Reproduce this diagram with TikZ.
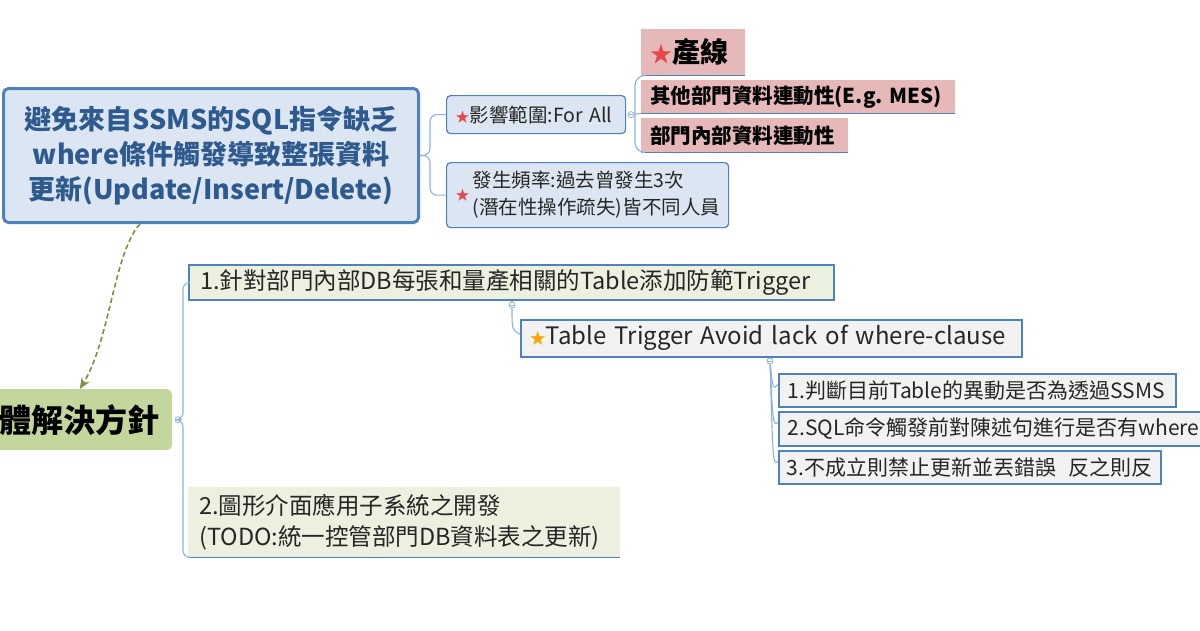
\documentclass[tikz,border=0pt]{standalone}
\usepackage{fontspec}
\setmainfont{Noto Sans CJK TC}
\usepackage{tikz}
\usetikzlibrary{positioning,arrows.meta}

\definecolor{topicfill}{HTML}{DCE6F2}
\definecolor{topicline}{HTML}{4F81BD}
\definecolor{topictext}{HTML}{2F5A8E}
\definecolor{linkblue}{HTML}{8DB3E2}
\definecolor{pinkfill}{HTML}{E6B9B8}
\definecolor{planfill}{HTML}{C3D69B}
\definecolor{actfill}{HTML}{EBF1DE}
\definecolor{grayfill}{HTML}{F2F2F2}
\definecolor{starred}{HTML}{E8474C}
\definecolor{starorange}{HTML}{F7A600}
\definecolor{olive}{HTML}{77933C}
\definecolor{inktext}{HTML}{262626}

\newcommand\fsz[2]{\fontsize{#1}{#2}\selectfont}
\frenchspacing

\begin{document}
\begin{tikzpicture}[x=1pt,y=-1pt,
  topicbox/.style={anchor=north west,draw=topicline,line width=3pt,fill=topicfill,rounded corners=5pt,
    text=topictext,font=\fsz{27}{35}\bfseries,align=center,inner sep=0pt},
  infobox/.style={anchor=north west,draw=topicline,line width=1.2pt,fill=topicfill,rounded corners=4pt,
    text=inktext,font=\fsz{19.5}{27},align=left,inner xsep=9pt,inner ysep=0pt},
  pinkbox/.style={anchor=north west,fill=pinkfill,text=black,font=\fsz{20.5}{24}\bfseries,
    align=left,inner xsep=9pt,inner ysep=0pt},
  planbox/.style={anchor=north east,fill=planfill,rounded corners=5pt,text=black,
    font=\fsz{32}{36}\bfseries,align=right,inner xsep=16pt,inner ysep=0pt},
  actbox/.style={anchor=north west,fill=actfill,text=inktext,font=\fsz{23.5}{31},
    align=left,inner xsep=11pt,inner ysep=0pt},
  graybox/.style={anchor=north west,draw=topicline,line width=1.5pt,fill=grayfill,text=inktext,
    font=\fsz{21}{26},align=left,inner xsep=9pt,inner ysep=0pt},
  uline/.style={draw=topicline,line width=1.5pt},
  link/.style={draw=linkblue,line width=1.1pt,rounded corners=7pt},
  knob/.style={circle,draw=linkblue,fill=white,line width=0.8pt,inner sep=0pt,minimum size=6pt,
    path picture={\draw[linkblue,line width=0.6pt] ([xshift=1pt]path picture bounding box.west)
      -- ([xshift=-1pt]path picture bounding box.east);}},
  relarrow/.style={draw=olive,line width=1.6pt,dash pattern=on 5pt off 3pt,
    -{Stealth[length=11pt,width=9pt,fill=olive]}}]

\useasboundingbox (0,0) rectangle (1200,630);
\fill[white] (0,0) rectangle (1200,630);
\clip (0,0) rectangle (1200,630);

% Topic
\node[topicbox,minimum width=415pt,minimum height=134pt] (topic) at (2,87)
  {避免來自SSMS的SQL指令缺乏\\where條件觸發導致整張資料\\更新(Update/Insert/Delete)};

% Text Node
\node[infobox,text width=161pt,minimum height=38pt] (scope) at (446,95)
  {\textcolor{starred}{\fsz{14}{14}★}影響範圍:For All};
% Text Node
\node[infobox,text width=264pt,minimum height=65pt] (freq) at (446,162)
  {\textcolor{starred}{\fsz{14}{14}★}\,\begin{tabular}[c]{@{}l@{}}發生頻率:過去曾發生3次\\(潛在性操作疏失)皆不同人員\end{tabular}};

% Text Node
\node[pinkbox,text width=86pt,minimum height=46pt,font=\fsz{28}{30}\bfseries] (line) at (641,29)
  {\textcolor{starred}{\fsz{22}{22}★}產線};
% Text Node
\node[pinkbox,text width=296pt,minimum height=33pt] (mes) at (641,80)
  {其他部門資料連動性(E.g. MES)};
% Text Node
\node[pinkbox,text width=189pt,minimum height=34pt] (inner) at (641,118)
  {部門內部資料連動性};

% Text Node
\node[planbox,text width=188pt,minimum height=61pt] (plan) at (172,389)
  {整體解決方針};
% Text Node
\node[actbox,draw=topicline,line width=2pt,text width=623pt,minimum height=35pt] (act1) at (188,264)
  {1.針對部門內部DB每張和量產相關的Table添加防範Trigger};
% Text Node
\node[actbox,text width=410pt,minimum height=70pt] (act2) at (188,487)
  {2.圖形介面應用子系統之開發\\(TODO:統一控管部門DB資料表之更新)};
% Text Node
\node[graybox,text width=483pt,minimum height=37pt,font=\fsz{24}{28}] (trig) at (520,319)
  {\textcolor{starorange}{\fsz{16}{16}★}Table Trigger Avoid lack of where-clause};
% Text Node
\node[graybox,text width=379pt,minimum height=33pt] (chk1) at (778,373)
  {1.判斷目前Table的異動是否為透過SSMS};
% Text Node
\node[graybox,text width=440pt,minimum height=34pt] (chk2) at (778,411)
  {2.SQL命令觸發前對陳述句進行是否有where子句};
% Text Node
\node[graybox,text width=366pt,minimum height=33pt,inner xsep=8pt] (chk3) at (778,450)
  {\mbox{3.不成立則禁止更新並丟錯誤\hspace{0.6em}反之則反}};

% Underlines
\draw[uline] (line.south west) -- (line.south east);
\draw[uline] (mes.south west) -- (mes.south east);
\draw[uline] (inner.south west) -- (inner.south east);
\draw[uline] (act2.south west) -- (act2.south east);

% Knobs
\node[knob] (k1) at ([xshift=5pt]scope.east) {};
\node[knob] (k2) at ([xshift=6pt]plan.east) {};
\node[knob] (k3) at (512,305) {};
\node[knob] (k4) at (770,361) {};

%Curve Lines
\draw[link] (topic.east) -- ++(10,0) |- (scope.west);
\draw[link] (topic.east) -- ++(10,0) |- (freq.west);
\draw[link] (k1) -- (mes.south west);
\draw[link,rounded corners=10pt] (line.south west) -- ++(-6,0) |- (inner.south west);
\draw[link] (k2) -- ++(5,0) |- (act1.west);
\draw[link] (k2) -- ++(5,0) |- (act2.south west);
\draw[link] (act1.south -| k3) -- (k3);
\draw[link] (k3) .. controls (512,330) .. ([yshift=4pt]trig.west);
\draw[link] (trig.south -| k4) -- (k4);
\draw[link] (k4) .. controls (773,390) .. ([yshift=6pt]chk1.west);
\draw[link] (k4) .. controls (773,425) .. ([yshift=6pt]chk2.west);
\draw[link] (k4) .. controls (773,465) .. ([yshift=6pt]chk3.west);

%Dashed Arrow
\draw[relarrow] ([xshift=-71pt]topic.south) .. controls (114,252) and (110,340) .. ([xshift=18pt]plan.north);

\end{tikzpicture}
\end{document}
